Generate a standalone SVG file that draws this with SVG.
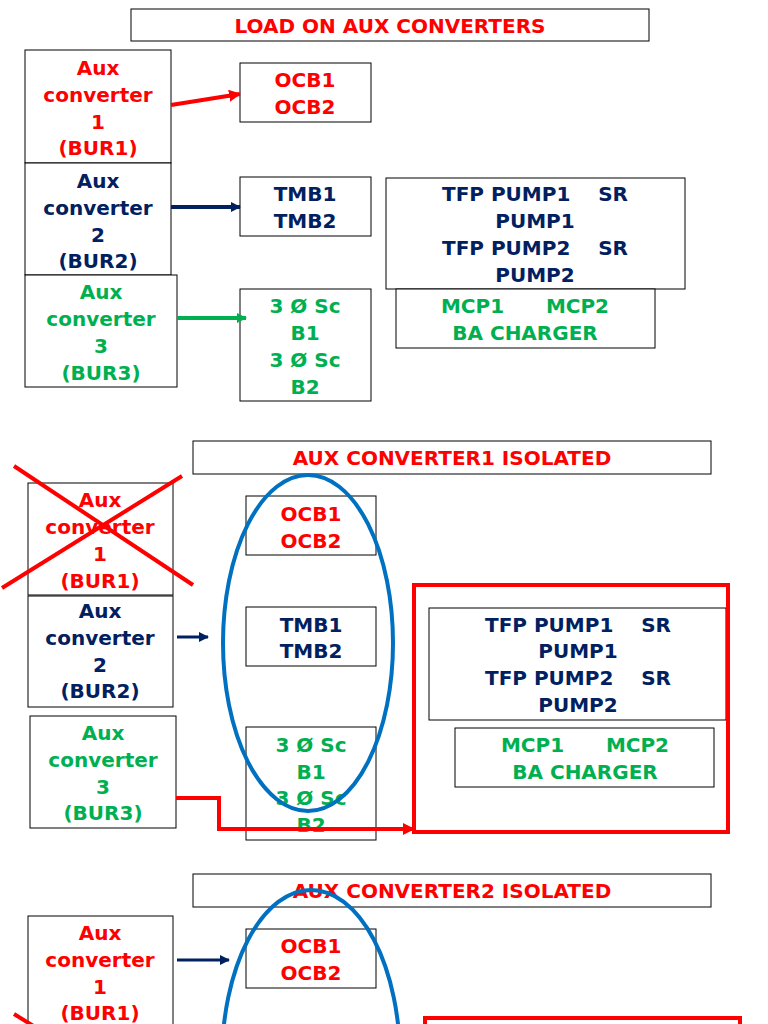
<svg xmlns="http://www.w3.org/2000/svg" width="768" height="1024" viewBox="0 0 768 1024">
<defs>
<style>
text{font-family:"DejaVu Sans",sans-serif;font-weight:bold;font-size:20px;text-anchor:middle;dominant-baseline:central}
.b{fill:#fff;stroke:#000;stroke-width:1}
.r{fill:#ff0000}.n{fill:#002060}.g{fill:#00b050}
</style>
<marker id="mr" markerWidth="8" markerHeight="8" refX="7" refY="4" orient="auto" markerUnits="userSpaceOnUse" viewBox="0 0 8 8"><path d="M0,0L8,4L0,8z" fill="#ff0000"/></marker>
<marker id="mn" markerWidth="10" markerHeight="10" refX="9" refY="5" orient="auto" markerUnits="userSpaceOnUse" viewBox="0 0 10 10"><path d="M0,0L10,5L0,10z" fill="#002060"/></marker>
<marker id="mg" markerWidth="10" markerHeight="10" refX="9" refY="5" orient="auto" markerUnits="userSpaceOnUse" viewBox="0 0 10 10"><path d="M0,0L10,5L0,10z" fill="#00b050"/></marker>
<marker id="mr2" markerWidth="12" markerHeight="12" refX="11" refY="6" orient="auto" markerUnits="userSpaceOnUse" viewBox="0 0 12 12"><path d="M0,0L12,6L0,12z" fill="#ff0000"/></marker>
</defs>
<rect width="768" height="1024" fill="#fff"/>

<g id="title1"><rect class="b" x="131" y="9" width="518" height="32"/><text class="r" x="390" y="26">LOAD ON AUX CONVERTERS</text></g>
<g id="s1a1"><rect class="b" x="25" y="50" width="146" height="113"/><text class="r" x="98" y="68">Aux</text><text class="r" x="98" y="95">converter</text><text class="r" x="98" y="122">1</text><text class="r" x="98" y="148">(BUR1)</text></g>
<g id="s1a2"><rect class="b" x="25" y="163" width="146" height="112"/><text class="n" x="98" y="181">Aux</text><text class="n" x="98" y="208">converter</text><text class="n" x="98" y="235">2</text><text class="n" x="98" y="261">(BUR2)</text></g>
<g id="s1a3"><rect class="b" x="25" y="275" width="152" height="112"/><text class="g" x="101" y="292">Aux</text><text class="g" x="101" y="319">converter</text><text class="g" x="101" y="346">3</text><text class="g" x="101" y="373">(BUR3)</text></g>
<g id="s1ocb"><rect class="b" x="240" y="63" width="131" height="59"/><text class="r" x="305" y="80">OCB1</text><text class="r" x="305" y="107">OCB2</text></g>
<g id="s1tmb"><rect class="b" x="240" y="177" width="131" height="59"/><text class="n" x="305" y="194">TMB1</text><text class="n" x="305" y="221">TMB2</text></g>
<g id="s1sc"><rect class="b" x="240" y="289" width="131" height="112"/><text class="g" x="305" y="306">3 Ø Sc</text><text class="g" x="305" y="333">B1</text><text class="g" x="305" y="360">3 Ø Sc</text><text class="g" x="305" y="387">B2</text></g>
<g id="s1tfp"><rect class="b" x="386" y="178" width="299" height="111"/><text class="n" x="535" y="194" xml:space="preserve">TFP PUMP1    SR</text><text class="n" x="535" y="221">PUMP1</text><text class="n" x="535" y="248" xml:space="preserve">TFP PUMP2    SR</text><text class="n" x="535" y="275">PUMP2</text></g>
<g id="s1mcp"><rect class="b" x="396" y="289" width="259" height="59"/><text class="g" x="525" y="306" xml:space="preserve">MCP1      MCP2</text><text class="g" x="525" y="333">BA CHARGER</text></g>

<g id="title2"><rect class="b" x="193" y="441" width="518" height="33"/><text class="r" x="452" y="458">AUX CONVERTER1 ISOLATED</text></g>
<g id="s2a1"><rect class="b" x="28" y="483" width="145" height="112"/><text class="r" x="100" y="500">Aux</text><text class="r" x="100" y="527">converter</text><text class="r" x="100" y="554">1</text><text class="r" x="100" y="581">(BUR1)</text></g>
<g id="s2a2"><rect class="b" x="28" y="596" width="145" height="111"/><text class="n" x="100" y="611">Aux</text><text class="n" x="100" y="638">converter</text><text class="n" x="100" y="665">2</text><text class="n" x="100" y="691">(BUR2)</text></g>
<g id="s2a3"><rect class="b" x="30" y="716" width="146" height="112"/><text class="g" x="103" y="733">Aux</text><text class="g" x="103" y="760">converter</text><text class="g" x="103" y="787">3</text><text class="g" x="103" y="813">(BUR3)</text></g>
<g id="s2ocb"><rect class="b" x="246" y="496" width="130" height="59"/><text class="r" x="311" y="514">OCB1</text><text class="r" x="311" y="541">OCB2</text></g>
<g id="s2tmb"><rect class="b" x="246" y="607" width="130" height="59"/><text class="n" x="311" y="625">TMB1</text><text class="n" x="311" y="651">TMB2</text></g>
<g id="s2sc"><rect class="b" x="246" y="727" width="130" height="113"/><text class="g" x="311" y="745">3 Ø Sc</text><text class="g" x="311" y="772">B1</text><text class="g" x="311" y="798">3 Ø Sc</text><text class="g" x="311" y="825">B2</text></g>
<g id="s2tfp"><rect class="b" x="429" y="608" width="297" height="112"/><text class="n" x="578" y="625" xml:space="preserve">TFP PUMP1    SR</text><text class="n" x="578" y="651">PUMP1</text><text class="n" x="578" y="678" xml:space="preserve">TFP PUMP2    SR</text><text class="n" x="578" y="705">PUMP2</text></g>
<g id="s2mcp"><rect class="b" x="455" y="728" width="259" height="59"/><text class="g" x="585" y="745" xml:space="preserve">MCP1      MCP2</text><text class="g" x="585" y="772">BA CHARGER</text></g>
<g id="s2redbox"><rect x="414" y="585" width="314" height="247" fill="none" stroke="#ff0000" stroke-width="4"/></g>
<g id="s2ell"><ellipse cx="308" cy="643" rx="85" ry="168" fill="none" stroke="#0070c0" stroke-width="4"/></g>
<g id="s2x"><line x1="14" y1="466" x2="193" y2="585" stroke="#ff0000" stroke-width="4"/><line x1="182" y1="476" x2="2" y2="588" stroke="#ff0000" stroke-width="4"/></g>

<g id="title3"><rect class="b" x="193" y="874" width="518" height="33"/><text class="r" x="452" y="891">AUX CONVERTER2 ISOLATED</text></g>
<g id="s3a1"><rect class="b" x="28" y="916" width="145" height="120"/><text class="r" x="100" y="933">Aux</text><text class="r" x="100" y="960">converter</text><text class="r" x="100" y="987">1</text><text class="r" x="100" y="1013">(BUR1)</text></g>
<g id="s3ocb"><rect class="b" x="246" y="929" width="130" height="59"/><text class="r" x="311" y="946">OCB1</text><text class="r" x="311" y="973">OCB2</text></g>
<g id="s3ell"><ellipse cx="311" cy="1060" rx="89" ry="170" fill="none" stroke="#0070c0" stroke-width="4"/></g>
<g id="s3red"><rect x="425" y="1018" width="315" height="40" fill="none" stroke="#ff0000" stroke-width="4"/><line x1="14" y1="1014" x2="40" y2="1030" stroke="#ff0000" stroke-width="4"/></g>

<g id="connectors" fill="none">
<line x1="171" y1="105" x2="240" y2="94" stroke="#ff0000" stroke-width="4" marker-end="url(#mr2)"/>
<line x1="171" y1="207" x2="240" y2="207" stroke="#002060" stroke-width="4" marker-end="url(#mn)"/>
<line x1="177" y1="318" x2="246" y2="318" stroke="#00b050" stroke-width="4" marker-end="url(#mg)"/>
<line x1="177" y1="637" x2="208" y2="637" stroke="#002060" stroke-width="3" marker-end="url(#mn)"/>
<path d="M176,798H219V829H414" stroke="#ff0000" stroke-width="4" marker-end="url(#mr2)"/>
<line x1="177" y1="960" x2="229" y2="960" stroke="#002060" stroke-width="3" marker-end="url(#mn)"/>
</g>
</svg>
